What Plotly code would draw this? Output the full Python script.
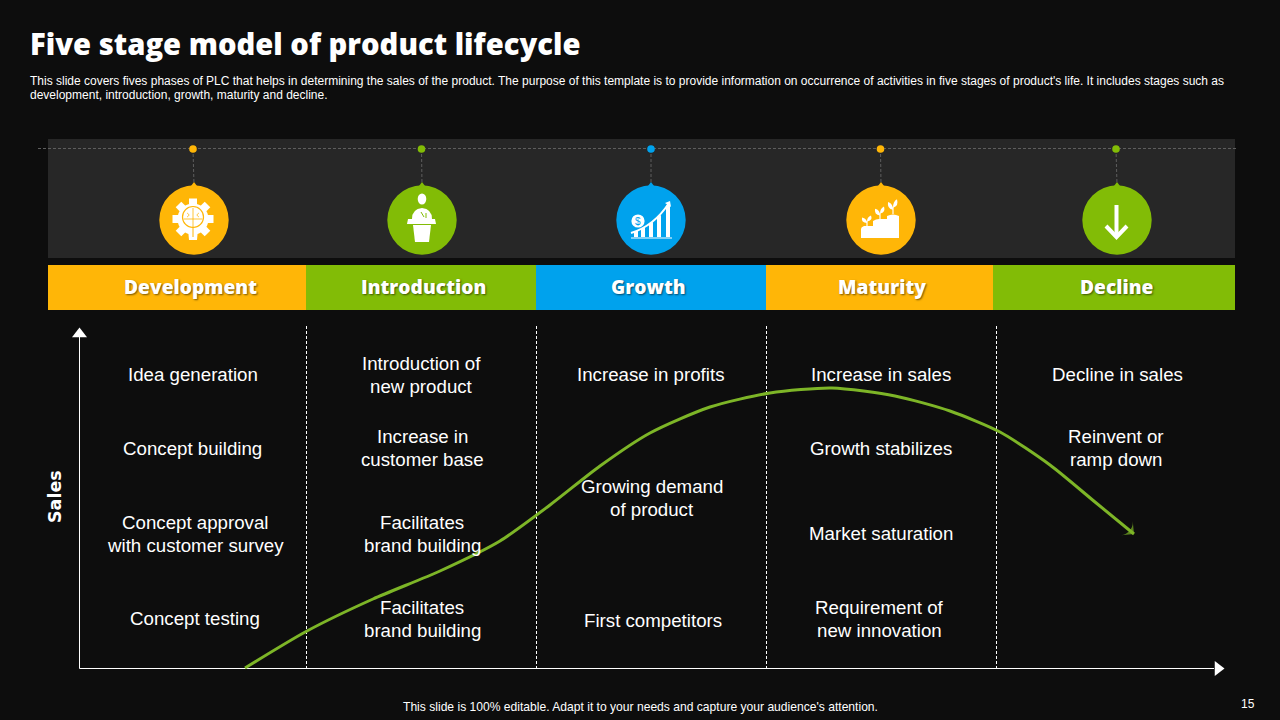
#!/usr/bin/env python3

import math
import plotly.graph_objects as go

title = "Five stage model of product lifecycle"
subtitle = ["This slide covers fives phases of PLC that helps in determining the sales of the product. The purpose of this template "
            "is to provide information on occurrence of activities in five stages of product's life. It includes stages such as",
            "development, introduction, growth, maturity and decline."]
footer = "This slide is 100% editable. Adapt it to your needs and capture your audience's attention."
page_no = "15"
y_label = "Sales"

stages = ["Development", "Introduction", "Growth", "Maturity", "Decline"]
activities = [
    [["Idea generation"], ["Concept building"], ["Concept approval", "with customer survey"], ["Concept testing"]],
    [["Introduction of", "new product"], ["Increase in", "customer base"], ["Facilitates", "brand building"], ["Facilitates", "brand building"]],
    [["Increase in profits"], ["Growing demand", "of product"], ["First competitors"]],
    [["Increase in sales"], ["Growth stabilizes"], ["Market saturation"], ["Requirement of", "new innovation"]],
    [["Decline in sales"], ["Reinvent or", "ramp down"]],
]

# sales curve
curve_x = [245, 307, 373, 440, 500, 550, 600, 650, 710, 770, 832, 895, 950, 1000, 1050, 1095, 1134]
curve_y = [668, 631, 599, 571, 541, 505, 466, 433, 407, 393, 388, 396, 411, 432, 465, 502, 534]

AMBER = "#FFB607"
GREEN = "#82BC06"
BLUE = "#00A2ED"
BG = "#0D0D0D"
PANEL = "#272727"
WHITE = "#FFFFFF"
CURVE = "#7DB527"
stage_colors = [AMBER, GREEN, BLUE, AMBER, GREEN]

# layout in slide pixels
band_edges = [48, 306, 536, 766, 993, 1235]
icon_x = [194, 422, 651, 881, 1117]
dot_x = [193, 421.5, 651, 880.5, 1116]
label_x = [190, 423, 648, 882, 1117]
divider_x = [306.5, 536.5, 766.5, 996.5]
activity_x = [[193, 192, 195, 195], [421, 422, 422, 422], [651, 652, 653], [881, 881, 881, 879], [1117, 1116]]
activity_y = [[374, 448, 534, 618], [375, 448, 534, 619], [374, 498, 620], [374, 448, 533, 619], [374, 448]]
LINE_GAP = 23

shapes = []
annots = []


def rect(x0, y0, x1, y1, color):
    shapes.append(dict(type="rect", x0=x0, y0=y0, x1=x1, y1=y1, fillcolor=color, line_width=0, layer="below"))


def line(x0, y0, x1, y1, color=WHITE, width=1, dash="solid", layer="below"):
    shapes.append(dict(type="line", x0=x0, y0=y0, x1=x1, y1=y1, line=dict(color=color, width=width, dash=dash), layer=layer))


def circle(cx, cy, rx, color, ry=None, outline=None, width=0):
    ry = rx if ry is None else ry
    shapes.append(dict(type="circle", x0=cx - rx, x1=cx + rx, y0=cy - ry, y1=cy + ry, fillcolor=color,
                       line=dict(color=outline or color, width=width), layer="above"))


def path(d, fill=WHITE, outline=None, width=0):
    shapes.append(dict(type="path", path=d, fillcolor=fill, line=dict(color=outline or fill, width=width), layer="above"))


def text(x, y, s, size, color=WHITE, family="Liberation Sans", **kw):
    font = dict(size=size, color=color, family=family)
    for k in ("weight", "shadow"):
        if k in kw:
            font[k] = kw.pop(k)
    annots.append(dict(x=x, y=y, text=s, font=font, showarrow=False, xref="x", yref="y", **kw))


def sprout(x, y, h):
    # two filled leaves on a short stem
    path(f"M{x-0.6},{y} L{x-0.6},{y-h*0.5} L{x+0.6},{y-h*0.5} L{x+0.6},{y} Z")
    path(f"M{x},{y-h*0.3} Q{x-6},{y-h*0.35} {x-5},{y-h*0.85} Q{x},{y-h*0.75} {x},{y-h*0.3} Z")
    path(f"M{x},{y-h*0.45} Q{x+6},{y-h*0.55} {x+4},{y-h*1.05} Q{x},{y-h*0.9} {x},{y-h*0.45} Z")


# panel and stage bands
rect(48, 139, 1235, 258, PANEL)
for i, name in enumerate(stages):
    rect(band_edges[i], 265, band_edges[i + 1], 310, stage_colors[i])
    text(label_x[i], 286.5, name, 19.2, family="Open Sans", weight=800, shadow="1px 1px 2px rgba(0,0,0,0.55)")

# hanging line, dots and icon discs
line(38, 148.5, 1238, 148.5, "#5E5E5E", 1, "3px,2px")
for i, x in enumerate(icon_x):
    line(dot_x[i], 149, x, 185, "#5E5E5E", 1, "3px,2px")
    circle(dot_x[i], 149, 3.8, stage_colors[i])
    path(f"M{x-3},186 L{x},182 L{x+3},186 Z", stage_colors[i])
    circle(x, 220, 34.7, stage_colors[i])

# development icon: gear and bulb
cx, cy = 193, 219
for k in range(8):
    a = k * math.pi / 4
    tx, ty = cx + 16.5 * math.cos(a), cy + 16.5 * math.sin(a)
    pts = []
    for j in range(4):
        b = a + math.pi / 4 + j * math.pi / 2
        pts.append(f"{tx + 5.6 * math.cos(b):.1f},{ty + 5.6 * math.sin(b):.1f}")
    path("M" + " L".join(pts) + " Z")
circle(cx, cy, 15.5, WHITE)
circle(cx, cy - 2, 10.5, WHITE, outline=AMBER, width=1.2)
path(f"M{cx},{cy-11} L{cx},{cy+7}", AMBER, AMBER, 0.8)
path(f"M{cx-9},{cy} L{cx+9},{cy}", AMBER, AMBER, 0.8)
path(f"M{cx-6},{cy-6} Q{cx-2},{cy-4} {cx-6},{cy-2}", WHITE, AMBER, 0.7)
path(f"M{cx+6},{cy-6} Q{cx+2},{cy-4} {cx+6},{cy-2}", WHITE, AMBER, 0.7)
path(f"M{cx-5},{cy+10} L{cx+5},{cy+10} L{cx+4},{cy+21} L{cx-4},{cy+21} Z")
path(f"M{cx},{cy+7} L{cx},{cy+18}", AMBER, AMBER, 1)

# introduction icon: speaker at a lectern
circle(422, 199, 4.3, WHITE, ry=5.5)
path("M412,219 Q412,209 422,208 Q432,209 432,219 Z")
path("M408,219 L435,219 L436,224 L407,224 Z")
path("M413,225 L431,225 L429,242 L415,242 Z")
path("M421,212 L424,217", GREEN, GREEN, 1)
path("M426,213 L426,218", GREEN, GREEN, 1)

# growth icon: coin and rising bars
circle(638, 221, 6.6, WHITE)
annots.append(dict(x=638, y=221, text="$", showarrow=False, xref="x", yref="y", font=dict(size=10, color=BLUE, family="Liberation Sans")))
for bx, top in [(634, 232), (641, 229), (649, 224), (657, 217), (666, 206)]:
    path(f"M{bx},{top} L{bx+4},{top-2} L{bx+4},237 L{bx},237 Z")
path("M631,233 Q654,226 669,203", "rgba(0,0,0,0)", WHITE, 2)
path("M665,203 L670,201 L671,207 Z")
path("M631,238 L672,238", WHITE, WHITE, 1)

# maturity icon: steps with sprouts
path("M861,238 L861,229 Q861,227 864,226 L873,226 L873,221 Q876,219 879,219 L887,219 L887,216 Q893,213 899,216 L899,238 Z")
sprout(867, 226, 10)
sprout(880, 219, 12)
sprout(893, 214, 14)

# decline icon: down arrow
line(1116.5, 205, 1116.5, 236, WHITE, 4, layer="above")
path("M1106,226 L1116.5,237 L1127,226", "rgba(0,0,0,0)", WHITE, 4)

# activity grid
for x in divider_x:
    line(x, 326, x, 668, WHITE, 1, "3px,2px")
line(79.5, 668.5, 79.5, 336)
line(79.5, 668.5, 1214, 668.5)

for col, items in enumerate(activities):
    for row, lines in enumerate(items):
        top = activity_y[col][row] - LINE_GAP * (len(lines) - 1) / 2
        for k, s in enumerate(lines):
            text(activity_x[col][row], top + k * LINE_GAP, s, 18.7)

text(28, 44, title, 29.2, family="Open Sans", weight=800, xanchor="left")
text(28, 81, subtitle[0], 12, xanchor="left")
text(28, 95, subtitle[1], 12, xanchor="left")
text(55, 497, y_label, 17.5, family="DejaVu Sans", weight=700, textangle=-90)
text(640, 707, footer, 12.1)
text(1248, 704, page_no, 12)

fig = go.Figure()
fig.add_trace(go.Scatter(x=curve_x, y=curve_y, mode="lines", hoverinfo="skip",
                         line=dict(color=CURVE, width=3, shape="spline", smoothing=0.7)))
fig.add_trace(go.Scatter(x=curve_x[-2:], y=curve_y[-2:], mode="markers", hoverinfo="skip",
                         marker=dict(symbol="arrow-wide", angleref="previous", size=[0, 13], color=CURVE, line_width=0)))
fig.add_trace(go.Scatter(x=[79.5], y=[334], mode="markers", hoverinfo="skip",
                         marker=dict(symbol="triangle-up", size=13, color=WHITE, line_width=0)))
fig.add_trace(go.Scatter(x=[1218], y=[668.5], mode="markers", hoverinfo="skip",
                         marker=dict(symbol="triangle-right", size=13, color=WHITE, line_width=0)))

fig.update_layout(
    width=1280,
    height=720,
    margin=dict(l=0, r=0, t=0, b=0),
    paper_bgcolor=BG,
    plot_bgcolor=BG,
    showlegend=False,
    shapes=shapes,
    annotations=annots,
    xaxis=dict(range=[0, 1280], visible=False, fixedrange=True),
    yaxis=dict(range=[720, 0], visible=False, fixedrange=True),
)
fig.write_html("out.html", config=dict(displayModeBar=False),
               post_script="document.body.style.margin='0';document.body.style.background='#0D0D0D';")
